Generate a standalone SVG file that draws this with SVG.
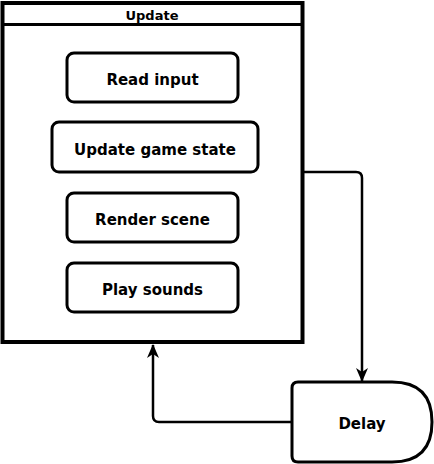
<svg xmlns="http://www.w3.org/2000/svg" width="434" height="464" viewBox="0 0 434 464">
<defs>
<style>
.box{fill:#fff;stroke:#000;stroke-width:3}
.lbl{font-family:"DejaVu Sans",sans-serif;font-size:15px;font-weight:bold;text-anchor:middle;fill:#000}
.conn{fill:none;stroke:#000;stroke-width:2.5;stroke-linejoin:round}
</style>
<marker id="arr" viewBox="0 0 14 12" refX="13" refY="6" markerWidth="14" markerHeight="12" markerUnits="userSpaceOnUse" orient="auto">
<path d="M0,0 L14,6 L0,12 L4,6 Z" fill="#000"/>
</marker>
</defs>
<rect width="434" height="464" fill="#fff"/>
<g id="update">
<rect x="2.5" y="3" width="300" height="339" fill="#fff" stroke="#000" stroke-width="4"/>
<line x1="2.5" y1="24.5" x2="302.5" y2="24.5" stroke="#000" stroke-width="3"/>
<text x="152" y="20" class="lbl" style="font-size:13px">Update</text>
</g>
<g id="read-input">
<rect class="box" x="67" y="53" width="171" height="49" rx="7"/>
<text x="152.5" y="85" class="lbl">Read input</text>
</g>
<g id="update-game-state">
<rect class="box" x="52" y="122" width="206" height="50" rx="7"/>
<text x="155" y="155" class="lbl">Update game state</text>
</g>
<g id="render-scene">
<rect class="box" x="67" y="193" width="171" height="49" rx="7"/>
<text x="152.5" y="225" class="lbl">Render scene</text>
</g>
<g id="play-sounds">
<rect class="box" x="67" y="263" width="171" height="49" rx="7"/>
<text x="152.5" y="295" class="lbl">Play sounds</text>
</g>
<g id="delay">
<path class="box" d="M298,382 L392,382 Q432,382 432,422 Q432,462 392,462 L298,462 Q292,462 292,456 L292,388 Q292,382 298,382 Z"/>
<text x="362" y="429" class="lbl">Delay</text>
</g>
<g id="connectors">
<path class="conn" d="M303,172 L356,172 Q362,172 362,178 L362,381" marker-end="url(#arr)"/>
<path class="conn" d="M292,422 L159,422 Q153,422 153,416 L153,345" marker-end="url(#arr)"/>
</g>
</svg>
